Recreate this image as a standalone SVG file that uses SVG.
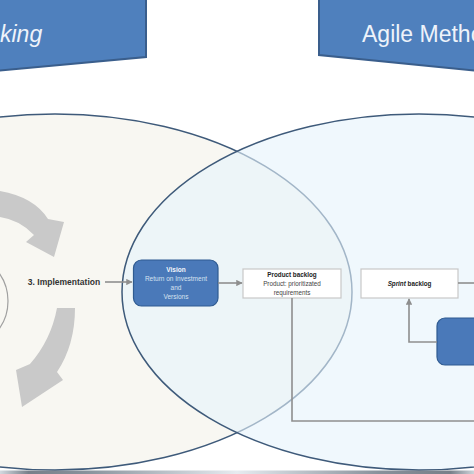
<svg xmlns="http://www.w3.org/2000/svg" width="474" height="474" viewBox="0 0 474 474">
<style>
.hdr{fill:#4f80bd;stroke:#3a5e8c;stroke-width:2}
.htxt{font-family:"Liberation Sans",Arial,sans-serif;font-size:23px;fill:#eef3fa}
.conn{fill:none;stroke:#8e8e8e;stroke-width:1.6}
.cyc{fill:#c9c9c9}
.box{fill:#ffffff;stroke:#c8c8c8;stroke-width:1.2}
.blue{fill:#4a79b9;stroke:#2f5b91;stroke-width:1.2}
.t{font-family:"Liberation Sans",Arial,sans-serif;text-anchor:middle}
</style>
<defs>
<marker id="ah" viewBox="0 0 10 10" refX="9" refY="5" markerWidth="4" markerHeight="4" orient="auto"><path d="M0,0 L10,5 L0,10 Z" fill="#8e8e8e"/></marker>
<linearGradient id="bot" x1="0" y1="0" x2="1" y2="0">
<stop offset="0" stop-color="#c8d0d8"/><stop offset="0.06" stop-color="#55606c"/><stop offset="0.18" stop-color="#6a7682"/><stop offset="0.5" stop-color="#e0e6ec"/><stop offset="0.8" stop-color="#6a7682"/><stop offset="0.95" stop-color="#55606c"/><stop offset="1" stop-color="#c0c8d0"/>
</linearGradient>
</defs>
<rect width="474" height="474" fill="#ffffff"/>
<g id="venn">
<ellipse id="left-ellipse" cx="55" cy="292" rx="297" ry="178" fill="#f8f7f2" stroke="#3e5a7a" stroke-width="1.5"/>
<ellipse id="right-ellipse" cx="419" cy="292" rx="297" ry="178" fill="#e6f3fb" fill-opacity="0.6" stroke="#3e5a7a" stroke-width="1.5"/>
<rect x="0" y="470.5" width="474" height="3.5" fill="url(#bot)" opacity="0.8"/>
</g>
<g id="header-left">
<polygon class="hdr" points="-5,-5 146,-5 146,57 -5,71"/>
<text class="htxt" x="0" y="42" font-style="italic">king</text>
</g>
<g id="header-right">
<polygon class="hdr" points="319,-5 480,-5 480,71 319,55"/>
<text class="htxt" x="362" y="42">Agile Metho</text>
</g>
<g id="cycle">
<path class="cyc" d="M0,191 Q34,197 48,219 L64,222 L54,257 L26,242 L34,235 Q20,220 0,217 Z"/>
<path class="cyc" d="M57,308 L75,308 Q75,345 57,372 L63,380 L22,407 L16,370 L30,364 Q51,340 57,308 Z"/>
<circle cx="-40" cy="301" r="48" fill="none" stroke="#a0a0a0" stroke-width="1.2"/>
</g>
<g id="implementation">
<text class="t" x="64" y="285" font-size="8.5" font-weight="bold" fill="#333333">3. Implementation</text>
</g>
<g id="vision">
<rect class="blue" x="133.5" y="260" width="84.5" height="46" rx="8"/>
<text class="t" x="176" y="272" font-size="6.5" font-weight="bold" fill="#f4f8fc">Vision</text>
<text class="t" x="176" y="281" font-size="6.5" fill="#d6e2f0">Return on Investment</text>
<text class="t" x="176" y="290" font-size="6.5" fill="#d6e2f0">and</text>
<text class="t" x="176" y="299" font-size="6.5" fill="#d6e2f0">Versions</text>
</g>
<g id="product-backlog">
<rect class="box" x="243" y="269" width="98" height="29"/>
<text class="t" x="292" y="277" font-size="6.3" font-weight="bold" fill="#222222">Product backlog</text>
<text class="t" x="292" y="286" font-size="6.3" fill="#444444">Product: prioritizated</text>
<text class="t" x="292" y="295" font-size="6.3" fill="#444444">requirements</text>
</g>
<g id="sprint-backlog">
<rect class="box" x="361" y="269" width="97" height="29"/>
<text class="t" x="409.5" y="286" font-size="6.3" font-weight="bold" fill="#222222"><tspan font-style="italic">Sprint</tspan> backlog</text>
</g>
<g id="blue-box">
<rect class="blue" x="437" y="318" width="60" height="47" rx="8"/>
</g>
<g id="connectors">
<line class="conn" x1="105" y1="282" x2="132" y2="282" marker-end="url(#ah)"/>
<line class="conn" x1="218" y1="283" x2="242" y2="283" marker-end="url(#ah)"/>
<polyline class="conn" points="458,283 474,283"/>
<polyline class="conn" points="437,342 409,342 409,299" marker-end="url(#ah)"/>
<polyline class="conn" points="292,298 292,421 476,421"/>
</g>
</svg>
